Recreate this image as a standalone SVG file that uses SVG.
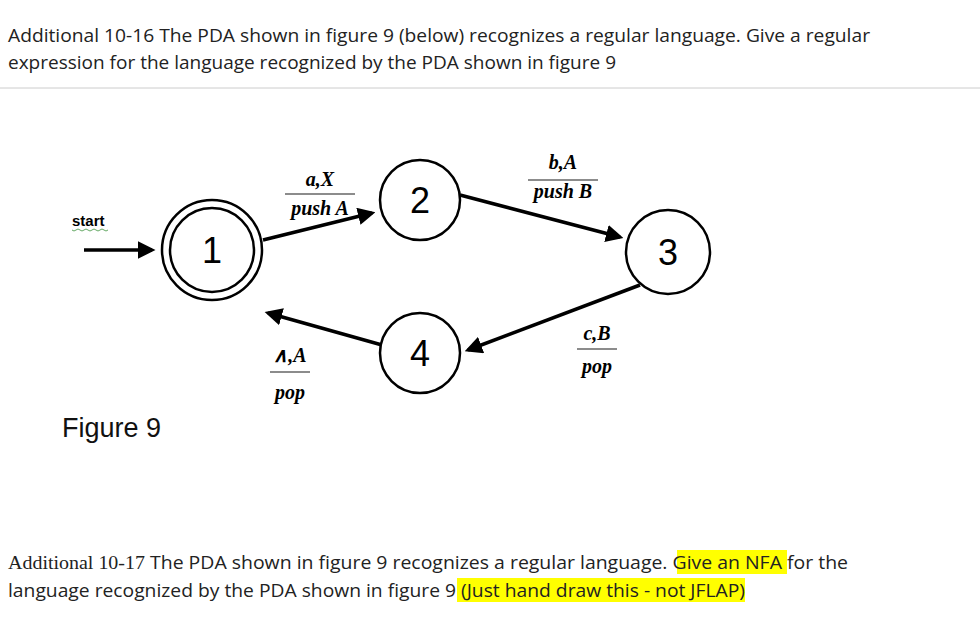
<svg xmlns="http://www.w3.org/2000/svg" width="980" height="622" viewBox="0 0 980 622">
<style>
.t{font-family:"Open Sans","Liberation Sans",sans-serif;font-size:18.5px;fill:#222}
.n{fill:#fff;stroke:#000;stroke-width:2.5}
.nl{font-family:"Liberation Sans",sans-serif;font-size:36px;text-anchor:middle}
.e{stroke:#000;stroke-width:3.5;fill:none;marker-end:url(#ah)}
.lb{font-family:"Liberation Serif",serif;font-style:italic;font-weight:bold;font-size:20px;text-anchor:middle}
.bar{stroke:#666;stroke-width:1.5}
</style>
<defs><marker id="ah" markerWidth="5" markerHeight="5" refX="4" refY="2.5" orient="auto"><path d="M0,0L5,2.5L0,5z"/></marker></defs>
<rect width="980" height="622" fill="#fff"/>
<text class="t" x="8" y="42" textLength="862" lengthAdjust="spacingAndGlyphs">Additional 10-16 The PDA shown in figure 9 (below) recognizes a regular language. Give a regular</text>
<text class="t" x="8" y="69" textLength="608" lengthAdjust="spacingAndGlyphs">expression for the language recognized by the PDA shown in figure 9</text>
<line x1="0" y1="88" x2="980" y2="88" stroke="#ccc"/>
<text x="72" y="226" font-family="Liberation Sans,sans-serif" font-weight="bold" font-size="15">start</text>
<path d="M72,230 q2,2 4,0 t4,0 t4,0 t4,0 t4,0 t4,0 t4,0 t4,0 t4,0" stroke="#6a6" fill="none" stroke-width="1"/>
<g id="edges">
<line class="e" x1="84" y1="250" x2="152" y2="250"/>
<line class="e" x1="263" y1="240" x2="372" y2="213"/>
<line class="e" x1="460" y1="195" x2="620" y2="237"/>
<line class="e" x1="640" y1="285" x2="468" y2="350"/>
<line class="e" x1="382" y1="345" x2="268" y2="313"/>
</g>
<g id="node1"><circle class="n" cx="212" cy="250" r="50"/><circle class="n" cx="212" cy="250" r="42"/><text class="nl" x="212" y="263">1</text></g>
<g id="node2"><circle class="n" cx="420" cy="200" r="40"/><text class="nl" x="420" y="213">2</text></g>
<g id="node3"><circle class="n" cx="668" cy="252" r="42"/><text class="nl" x="668" y="265">3</text></g>
<g id="node4"><circle class="n" cx="420" cy="353" r="40"/><text class="nl" x="420" y="366">4</text></g>
<g id="labels">
<text class="lb" x="320" y="186">a,X</text><line class="bar" x1="285" y1="194" x2="355" y2="194"/><text class="lb" x="320" y="215">push A</text>
<text class="lb" x="563" y="169">b,A</text><line class="bar" x1="528" y1="180" x2="598" y2="180"/><text class="lb" x="563" y="198">push B</text>
<text class="lb" x="597" y="340">c,B</text><line class="bar" x1="577" y1="349" x2="617" y2="349"/><text class="lb" x="597" y="373">pop</text>
<text class="lb" x="290" y="362">∧,A</text><line class="bar" x1="270" y1="372" x2="310" y2="372"/><text class="lb" x="290" y="399">pop</text>
</g>
<text x="62" y="437" font-family="Liberation Sans,sans-serif" font-size="27" fill="#111">Figure 9</text>
<rect x="677" y="550" width="110" height="24" fill="#ffff00"/>
<rect x="457" y="578" width="288" height="24" fill="#ffff00"/>
<text class="t" x="8" y="569" textLength="840" lengthAdjust="spacingAndGlyphs"><tspan font-family="Liberation Serif,serif" font-size="19">Additional 10-17</tspan> The PDA shown in figure 9 recognizes a regular language. Give an NFA for the</text>
<text class="t" x="8" y="597" textLength="737" lengthAdjust="spacingAndGlyphs">language recognized by the PDA shown in figure 9 (Just hand draw this - not JFLAP)</text>
</svg>
